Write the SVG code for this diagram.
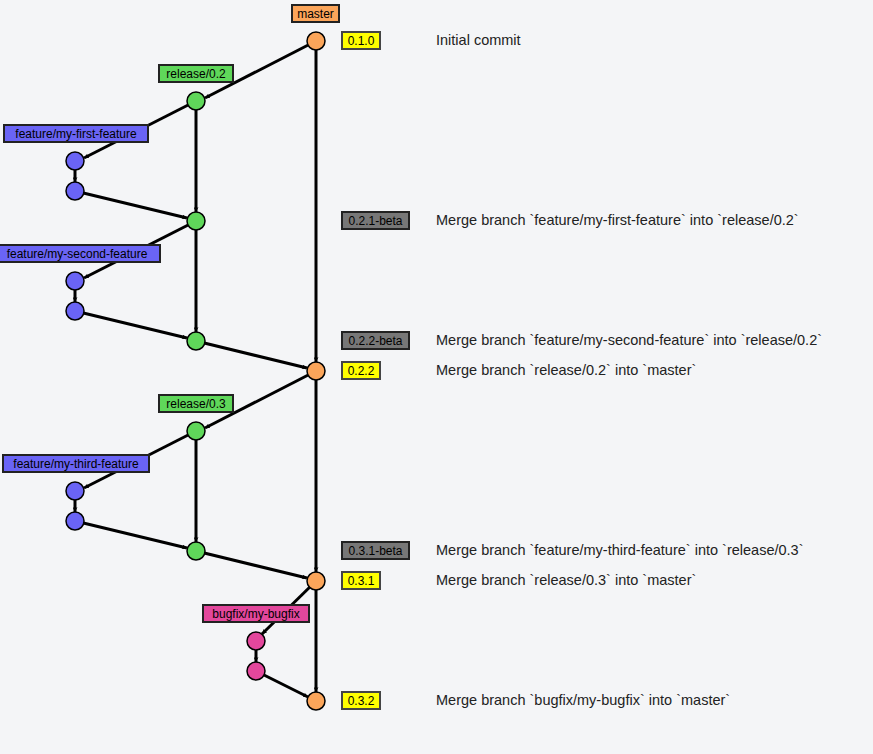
<svg xmlns="http://www.w3.org/2000/svg" width="873" height="754" viewBox="0 0 873 754">
<style>
.e{stroke:#000;stroke-width:3;fill:none;marker-end:url(#a)}
.n{stroke:#000;stroke-width:1.5}
.m{fill:#fba55a}.r{fill:#5fd75a}.f{fill:#6a64f5}.b{fill:#e3479c}
.lb{stroke:#222;stroke-width:2}
text{font-family:"Liberation Sans",Arial,sans-serif;font-size:12px}
.tag{fill:#ff0;stroke:#444;stroke-width:2}
.tagb{fill:#777;stroke:#222;stroke-width:2}
.msg{font-size:14.5px;fill:#222}
</style>
<defs><marker id="a" viewBox="0 0 10 10" refX="10" refY="5" markerWidth="5" markerHeight="5" orient="auto" markerUnits="userSpaceOnUse" ><path d="M0,0 L10,5 L0,10 L3,5z" fill="#000"/></marker></defs>
<rect width="873" height="754" fill="#f4f5f7"/>
<g id="connectors">
<path class="e" d="M316,41 L205,98"/>
<path class="e" d="M196,101 L84,158"/>
<path class="e" d="M75,161 L75,182"/>
<path class="e" d="M75,191 L187,218"/>
<path class="e" d="M196,101 L196,212"/>
<path class="e" d="M196,221 L84,278"/>
<path class="e" d="M75,281 L75,302"/>
<path class="e" d="M75,311 L187,338"/>
<path class="e" d="M196,221 L196,332"/>
<path class="e" d="M196,341 L307,368"/>
<path class="e" d="M316,41 L316,362"/>
<path class="e" d="M316,371 L205,428"/>
<path class="e" d="M196,431 L84,488"/>
<path class="e" d="M75,491 L75,512"/>
<path class="e" d="M75,521 L187,548"/>
<path class="e" d="M196,431 L196,542"/>
<path class="e" d="M196,551 L307,578"/>
<path class="e" d="M316,371 L316,572"/>
<path class="e" d="M316,581 L262,634"/>
<path class="e" d="M256,641 L256,662"/>
<path class="e" d="M256,671 L308,697"/>
<path class="e" d="M316,581 L316,692"/>
</g>
<g id="labels">
<rect class="lb m" x="292" y="5" width="47" height="17"/><text x="315.5" y="18" text-anchor="middle">master</text>
<rect class="lb r" x="159" y="65" width="74" height="17"/><text x="196" y="78" text-anchor="middle">release/0.2</text>
<rect class="lb f" x="4" y="125" width="144" height="17"/><text x="76" y="138" text-anchor="middle">feature/my-first-feature</text>
<rect class="lb f" x="-5" y="245" width="165" height="17"/><text x="77" y="258" text-anchor="middle">feature/my-second-feature</text>
<rect class="lb r" x="159" y="395" width="74" height="17"/><text x="196" y="408" text-anchor="middle">release/0.3</text>
<rect class="lb f" x="3" y="455" width="146" height="17"/><text x="76" y="468" text-anchor="middle">feature/my-third-feature</text>
<rect class="lb b" x="203" y="605" width="106" height="17"/><text x="256" y="618" text-anchor="middle">bugfix/my-bugfix</text>
</g>
<g id="nodes">
<g id="c010"><circle class="n m" cx="316" cy="41" r="9"/></g>
<g id="r1"><circle class="n r" cx="196" cy="101" r="9"/></g>
<g id="f1a"><circle class="n f" cx="75" cy="161" r="9"/></g>
<g id="f1b"><circle class="n f" cx="75" cy="191" r="9"/></g>
<g id="r2"><circle class="n r" cx="196" cy="221" r="9"/></g>
<g id="f2a"><circle class="n f" cx="75" cy="281" r="9"/></g>
<g id="f2b"><circle class="n f" cx="75" cy="311" r="9"/></g>
<g id="r3"><circle class="n r" cx="196" cy="341" r="9"/></g>
<g id="c022"><circle class="n m" cx="316" cy="371" r="9"/></g>
<g id="r4"><circle class="n r" cx="196" cy="431" r="9"/></g>
<g id="f3a"><circle class="n f" cx="75" cy="491" r="9"/></g>
<g id="f3b"><circle class="n f" cx="75" cy="521" r="9"/></g>
<g id="r5"><circle class="n r" cx="196" cy="551" r="9"/></g>
<g id="c031"><circle class="n m" cx="316" cy="581" r="9"/></g>
<g id="b1"><circle class="n b" cx="256" cy="641" r="9"/></g>
<g id="b2"><circle class="n b" cx="256" cy="671" r="9"/></g>
<g id="c032"><circle class="n m" cx="316" cy="701" r="9"/></g>
</g>
<g id="tags">
<rect class="tag" x="342" y="32" width="38" height="17"/><text x="361" y="45" text-anchor="middle">0.1.0</text>
<rect class="tagb" x="342" y="212" width="67" height="17"/><text x="375.5" y="225" text-anchor="middle">0.2.1-beta</text>
<rect class="tagb" x="342" y="332" width="67" height="17"/><text x="375.5" y="345" text-anchor="middle">0.2.2-beta</text>
<rect class="tag" x="342" y="362" width="38" height="17"/><text x="361" y="375" text-anchor="middle">0.2.2</text>
<rect class="tagb" x="342" y="542" width="67" height="17"/><text x="375.5" y="555" text-anchor="middle">0.3.1-beta</text>
<rect class="tag" x="342" y="572" width="38" height="17"/><text x="361" y="585" text-anchor="middle">0.3.1</text>
<rect class="tag" x="342" y="692" width="38" height="17"/><text x="361" y="705" text-anchor="middle">0.3.2</text>
</g>
<g id="messages">
<text class="msg" x="436" y="45">Initial commit</text>
<text class="msg" x="436" y="225">Merge branch `feature/my-first-feature` into `release/0.2`</text>
<text class="msg" x="436" y="345">Merge branch `feature/my-second-feature` into `release/0.2`</text>
<text class="msg" x="436" y="375">Merge branch `release/0.2` into `master`</text>
<text class="msg" x="436" y="555">Merge branch `feature/my-third-feature` into `release/0.3`</text>
<text class="msg" x="436" y="585">Merge branch `release/0.3` into `master`</text>
<text class="msg" x="436" y="705">Merge branch `bugfix/my-bugfix` into `master`</text>
</g>
</svg>
